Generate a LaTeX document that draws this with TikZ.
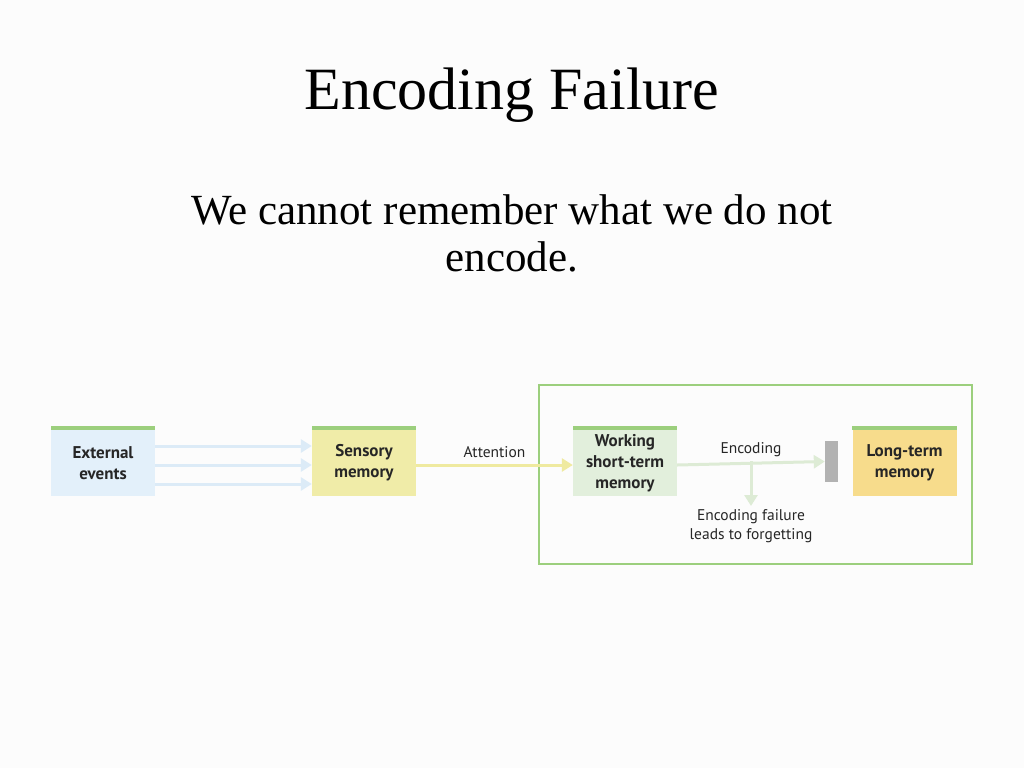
\documentclass[tikz,border=0pt]{standalone}
\usepackage{fontspec}
\setmainfont{Liberation Serif}
\newfontfamily\boxfont{PT Sans}
\usetikzlibrary{arrows.meta}
\definecolor{bg}{HTML}{FCFCFC}
\definecolor{gbar}{HTML}{9CCF7D}
\definecolor{blueb}{HTML}{E3F0FA}
\definecolor{yelb}{HTML}{F0ECA8}
\definecolor{greenb}{HTML}{E2EFDC}
\definecolor{orb}{HTML}{F7DC8C}
\definecolor{bluea}{HTML}{DCEBF7}
\definecolor{yela}{HTML}{EFEAA0}
\definecolor{greena}{HTML}{DDEBD5}
\tikzset{
 mbox/.style={minimum width=104pt,minimum height=66pt,inner sep=0pt,align=center,font=\boxfont\fontsize{17}{21}\selectfont\bfseries,text=black!85},
 topbar/.style={fill=gbar,draw=none},
 arr/.style={line width=3pt,-{Triangle[length=11pt,width=13pt]}},
 lbl/.style={font=\boxfont\fontsize{15.5}{19}\selectfont,text=black!85,align=center}
}
\begin{document}
\begin{tikzpicture}[x=1pt,y=-1pt]
\fill[bg] (0,0) rectangle (1024,768);
\useasboundingbox (0,0) rectangle (1024,768);
\node[font=\fontsize{60}{66}\selectfont] (title) at (512,95) {Encoding Failure};
\node[font=\fontsize{43}{47}\selectfont,align=center] (sub) at (512,233) {We cannot remember what we do not\\encode.};
\draw[gbar,line width=2pt] (539,385) rectangle (972,564);
\node[mbox,fill=blueb] (ext) at (103,463) {External\\events};
\node[mbox,fill=yelb] (sen) at (364,463) {Sensory\\memory};
\node[mbox,fill=greenb] (wrk) at (625,463) {Working\\short-term\\memory};
\node[mbox,fill=orb] (ltm) at (904.5,463) {Long-term\\memory};
\foreach \n in {ext,sen,wrk,ltm}{\fill[topbar] (\n.north west) rectangle ([yshift=4pt]\n.north east);}
\node[fill=black!30,minimum width=13pt,minimum height=41pt,inner sep=0pt] (gate) at (831.5,461.5) {};
\foreach \dy in {-19,0,19}{\draw[arr,bluea] ([yshift=\dy-2]ext.east) -- ([yshift=\dy-2]sen.west);}
\draw[arr,yela] ([yshift=-2]sen.east) -- node[lbl,above=2pt] {Attention} ([yshift=-2]wrk.west);
\draw[arr,greena] ([yshift=-2]wrk.east) -- node[lbl,above=2pt] (enc) {Encoding} (gate.west);
\coordinate (split) at (751,461);
\node[lbl,below] (fail) at (751,506) {Encoding failure\\leads to forgetting};
\draw[arr,greena] (split) -- (fail.north);
\end{tikzpicture}
\end{document}
